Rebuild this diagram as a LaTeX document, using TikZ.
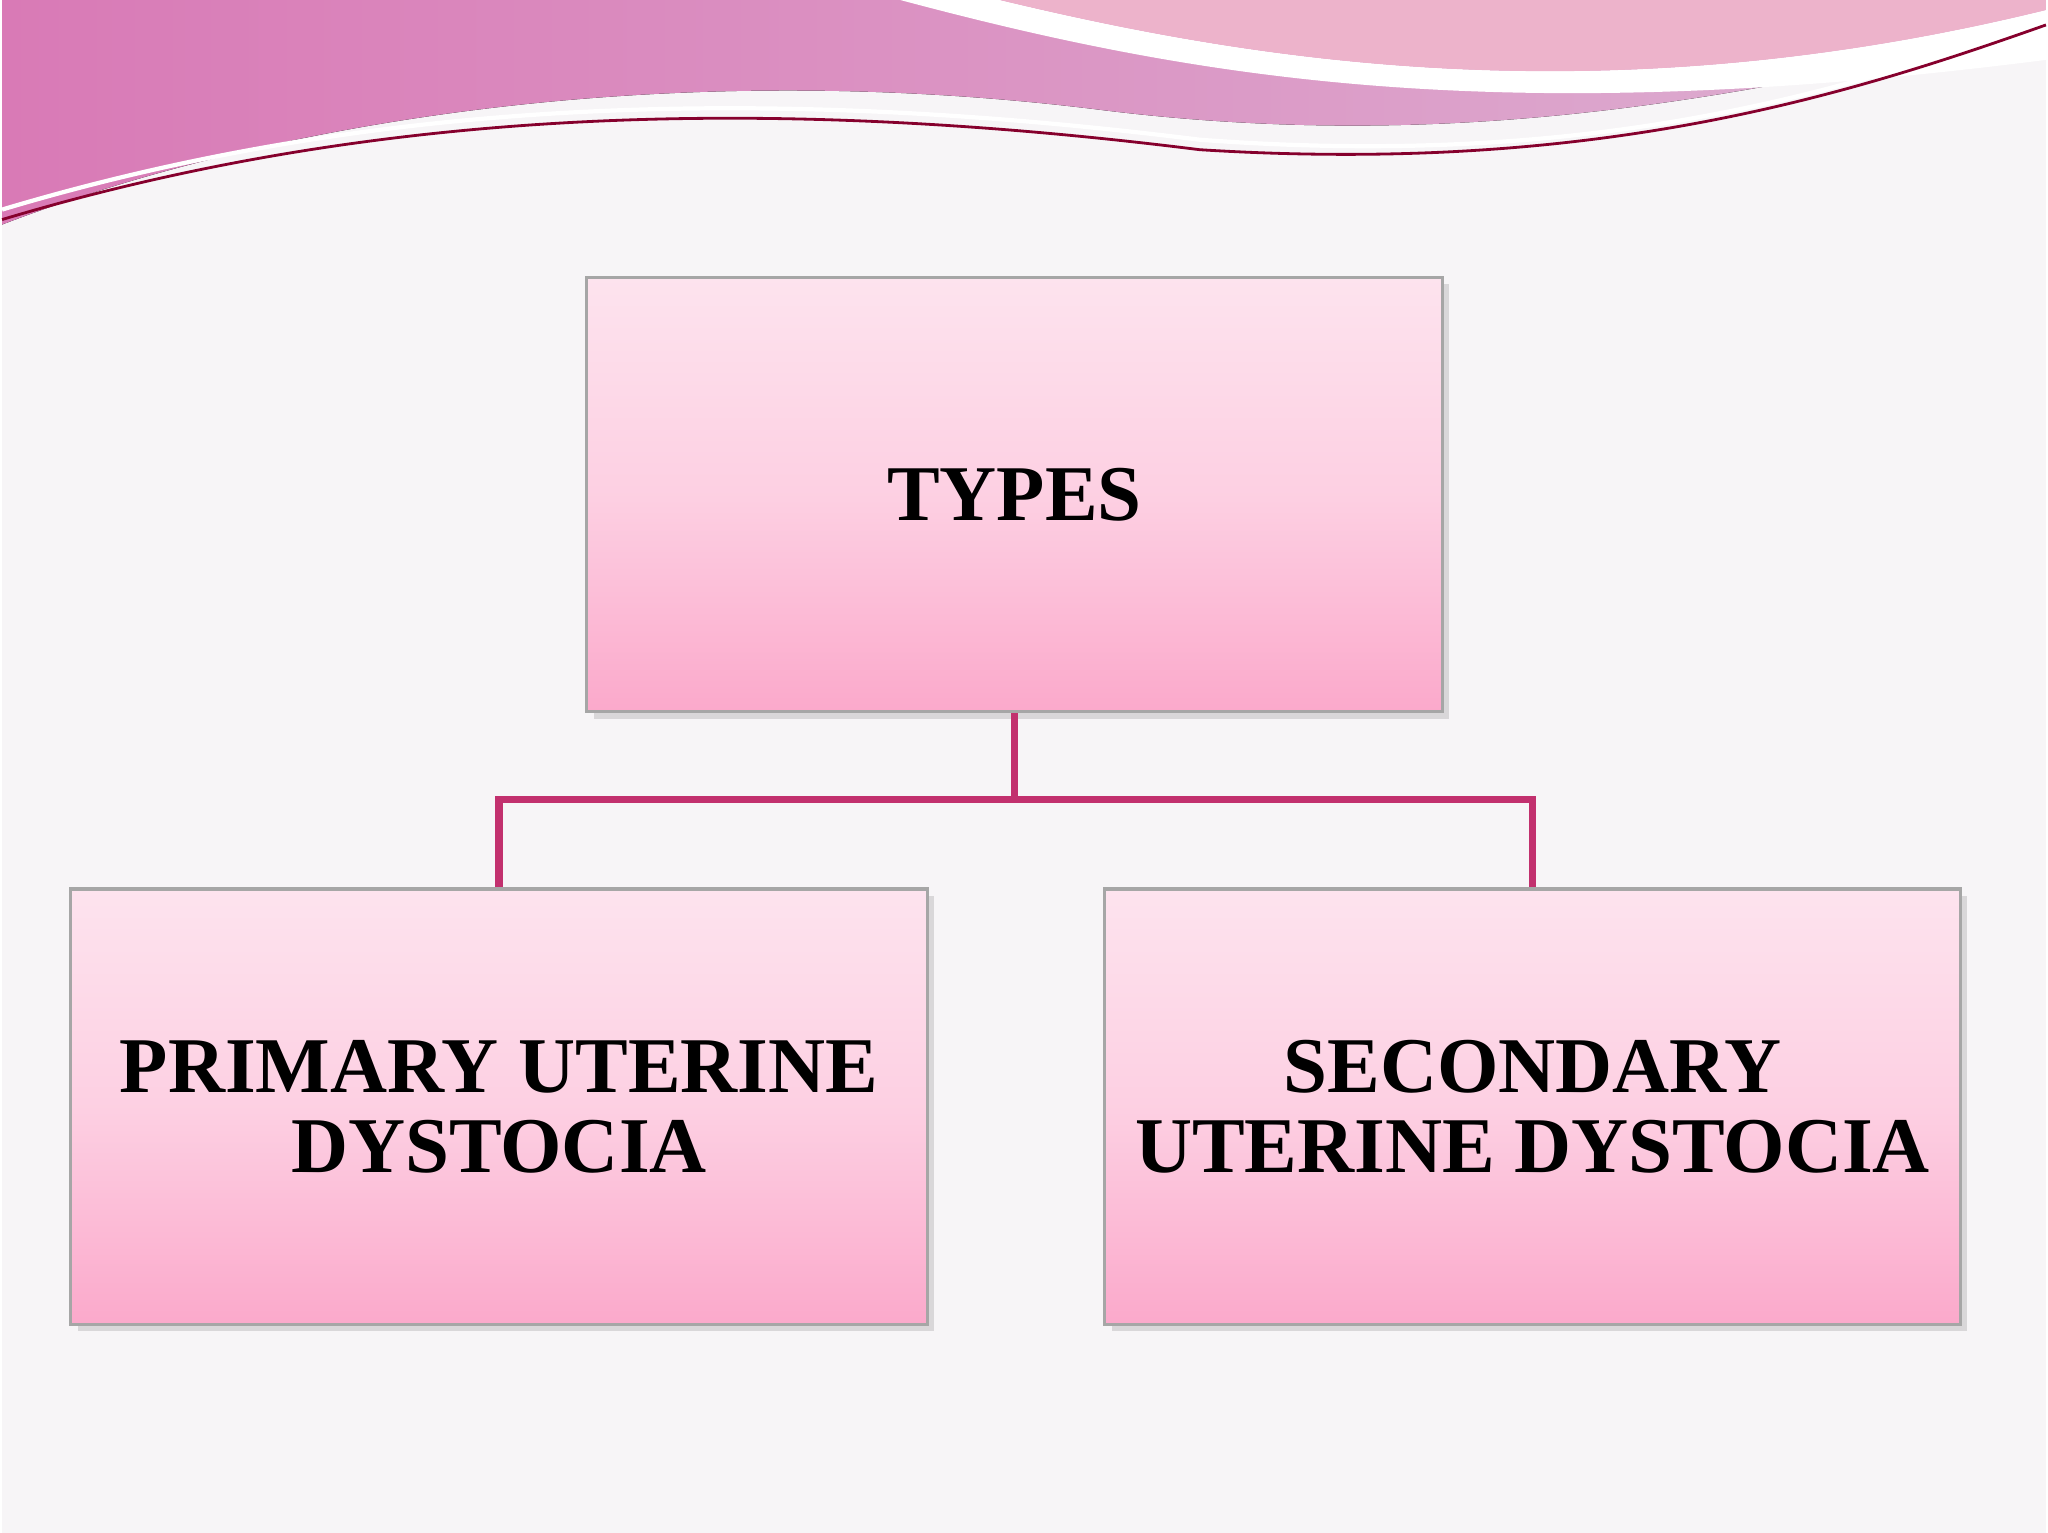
\documentclass[tikz,border=0pt]{standalone}
\usepackage{fontspec}
\setmainfont{Liberation Serif}
\usetikzlibrary{shadows}
\definecolor{bg}{HTML}{F7F5F7}
\definecolor{boxpink}{HTML}{FBA9CB}
\definecolor{boxlight}{HTML}{FDE3EE}
\definecolor{line}{HTML}{C2306E}
\definecolor{waveA}{HTML}{D97AB6}
\definecolor{waveB}{HTML}{E8A0BE}
\definecolor{waveC}{HTML}{DDB0D2}
\tikzset{
  box/.style={draw=gray!70, line width=1pt, inner sep=0pt, align=center,
    font=\bfseries\fontsize{22.5}{23}\selectfont,
    top color=boxlight, bottom color=boxpink, middle color=boxpink!55,
    drop shadow={opacity=0.25, shadow xshift=2pt, shadow yshift=-2pt}},
  conn/.style={draw=line, line width=2.2pt}
}
\begin{document}
\begin{tikzpicture}[x=0.01cm,y=-0.01cm]
\fill[bg] (0,0) rectangle (2048,1536);
% top waves
\fill[left color=waveA, right color=waveC] (0,0) -- (0,225) .. controls (300,110) and (700,60) .. (1100,110) .. controls (1500,160) and (1800,80) .. (2048,30) -- (2048,0) -- cycle;
\fill[white] (900,0) .. controls (1200,80) and (1500,130) .. (2048,60) -- (2048,10) .. controls (1600,120) and (1250,60) .. (1000,0) -- cycle;
\fill[waveB!80] (1000,0) .. controls (1250,60) and (1600,120) .. (2048,10) -- (2048,0) -- cycle;
\draw[white, line width=1.2pt] (0,210) .. controls (400,90) and (800,90) .. (1200,140) .. controls (1600,170) and (1850,90) .. (2048,20);
\draw[purple!70!black, line width=0.8pt] (0,220) .. controls (400,100) and (800,100) .. (1200,150) .. controls (1600,175) and (1850,95) .. (2048,25);
% boxes
\node[box, minimum width=8.57cm, minimum height=4.35cm] (top) at (1014.5,495.5) {TYPES};
\node[box, minimum width=8.58cm, minimum height=4.36cm] (left) at (498,1109) {PRIMARY UTERINE\\DYSTOCIA};
\node[box, minimum width=8.57cm, minimum height=4.36cm] (right) at (1533.5,1109) {SECONDARY\\UTERINE DYSTOCIA};
\coordinate (mid) at (1014.5,801);
\draw[conn] (top.south) -- (mid);
\draw[conn] (left.north) |- (mid) -| (right.north);
\end{tikzpicture}
\end{document}
